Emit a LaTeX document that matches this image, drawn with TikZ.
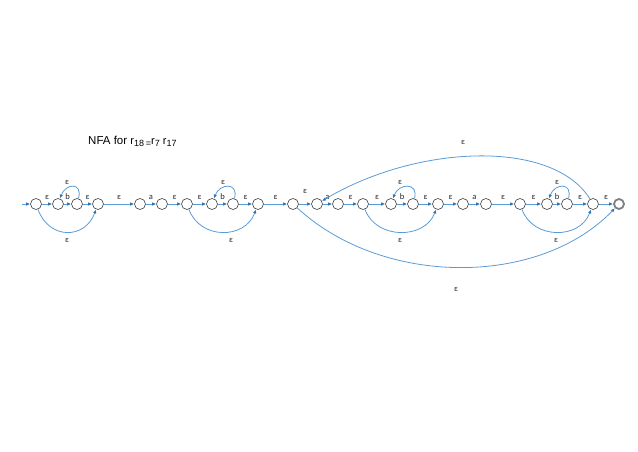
\documentclass[tikz,border=0pt]{standalone}
\usepackage{fontspec}
\setmainfont{Carlito}
\newfontfamily\titlefont{Liberation Sans}
\usetikzlibrary{arrows.meta}
\definecolor{edgeblue}{HTML}{5B9BD5}
\definecolor{tipblue}{HTML}{2E75B6}
\newcommand{\lowsub}[1]{\raisebox{-2.2pt}{\fontsize{9}{9}\selectfont #1}}
\tikzset{
  st/.style={circle,draw=black!75,line width=0.6pt,fill=white,minimum size=11pt,inner sep=0pt},
  fin/.style={circle,draw=black!50,line width=1.8pt,fill=white,minimum size=10pt,inner sep=0pt},
  tr/.style={draw=edgeblue,line width=0.8pt,-{Latex[length=4pt,width=3.5pt,color=tipblue]}},
  elab/.style={font=\fontsize{8.5}{9}\selectfont,inner sep=0pt,anchor=base,yshift=4.5pt,text=black!85},
  alab/.style={font=\fontsize{8.5}{9}\selectfont,inner sep=0pt,text=black!85}
}
\begin{document}
\begin{tikzpicture}[x=1pt,y=1pt]
\useasboundingbox (0,0) rectangle (638,451);
% title
\node[anchor=base west,inner sep=0pt,font=\titlefont\fontsize{11.5}{13}\selectfont] (title) at (88,307)
  {NFA for {\fontsize{11}{13}\selectfont r\lowsub{18}\,\lowsub{=}r\lowsub{7} r\lowsub{17}}};
% states
\node[st] (n1) at (36,247) {};
\node[st] (n2) at (58,247) {};
\node[st] (n3) at (77,247) {};
\node[st] (n4) at (98,247) {};
\node[st] (n5) at (140,247) {};
\node[st] (n6) at (162,247) {};
\node[st] (n7) at (187,247) {};
\node[st] (n8) at (212,247) {};
\node[st] (n9) at (233,247) {};
\node[st] (n10) at (258,247) {};
\node[st] (n11) at (293,247) {};
\node[st] (n12) at (317,247) {};
\node[st] (n13) at (338,247) {};
\node[st] (n14) at (363,247) {};
\node[st] (n15) at (391,247) {};
\node[st] (n16) at (413,247) {};
\node[st] (n17) at (438,247) {};
\node[st] (n18) at (463,247) {};
\node[st] (n19) at (486,247) {};
\node[st] (n20) at (520,247) {};
\node[st] (n21) at (547,247) {};
\node[st] (n22) at (567,247) {};
\node[st] (n23) at (593,247) {};
\node[fin] (n24) at (619,247) {};
\coordinate (start) at (22,247);
% straight transitions
\draw[tr] (start) -- (n1);
\draw[tr] (n1) -- node[elab]{ε} (n2);
\draw[tr] (n2) -- node[elab]{b} (n3);
\draw[tr] (n3) -- node[elab]{ε} (n4);
\draw[tr] (n4) -- node[elab]{ε} (n5);
\draw[tr] (n5) -- node[elab]{a} (n6);
\draw[tr] (n6) -- node[elab]{ε} (n7);
\draw[tr] (n7) -- node[elab]{ε} (n8);
\draw[tr] (n8) -- node[elab]{b} (n9);
\draw[tr] (n9) -- node[elab]{ε} (n10);
\draw[tr] (n10) -- node[elab]{ε} (n11);
\draw[tr] (n11) -- node[elab,yshift=6.5pt]{ε} (n12);
\draw[tr] (n12) -- node[elab]{a} (n13);
\draw[tr] (n13) -- node[elab]{ε} (n14);
\draw[tr] (n14) -- node[elab]{ε} (n15);
\draw[tr] (n15) -- node[elab]{b} (n16);
\draw[tr] (n16) -- node[elab]{ε} (n17);
\draw[tr] (n17) -- node[elab]{ε} (n18);
\draw[tr] (n18) -- node[elab]{a} (n19);
\draw[tr] (n19) -- node[elab]{ε} (n20);
\draw[tr] (n20) -- node[elab]{ε} (n21);
\draw[tr] (n21) -- node[elab]{b} (n22);
\draw[tr] (n22) -- node[elab]{ε} (n23);
\draw[tr] (n23) -- node[elab]{ε} (n24);
% loops back
\draw[tr] (n3) .. controls +(75:23) and +(70:22) .. (n2);
\draw[tr] (n9) .. controls +(75:23) and +(70:22) .. (n8);
\draw[tr] (n16) .. controls +(75:23) and +(70:22) .. (n15);
\draw[tr] (n22) .. controls +(75:23) and +(70:22) .. (n21);
\node[alab] (l1) at (67,268.5) {ε};
\node[alab] (l2) at (223,268.5) {ε};
\node[alab] (l3) at (400,268.5) {ε};
\node[alab] (l4) at (557,268.5) {ε};
% bypasses
\draw[tr] (n1) .. controls +(-70:38) and +(-110:38) .. (n4);
\draw[tr] (n7) .. controls +(-70:38) and +(-110:38) .. (n10);
\draw[tr] (n14) .. controls +(-70:38) and +(-110:38) .. (n17);
\draw[tr] (n20) .. controls +(-70:38) and +(-110:38) .. (n23);
\node[alab] (l5) at (67,211) {ε};
\node[alab] (l6) at (231,211) {ε};
\node[alab] (l7) at (400,211) {ε};
\node[alab] (l8) at (556,211) {ε};
% big arcs
\draw[tr] (n23) .. controls +(-40,65) and +(100,60) .. (n12);
\node[alab] (l9) at (463,309) {ε};
\draw[tr] (n11) .. controls +(90,-83) and +(-80,-83) .. (n24);
\node[alab] (l10) at (456,162) {ε};
\end{tikzpicture}
\end{document}
